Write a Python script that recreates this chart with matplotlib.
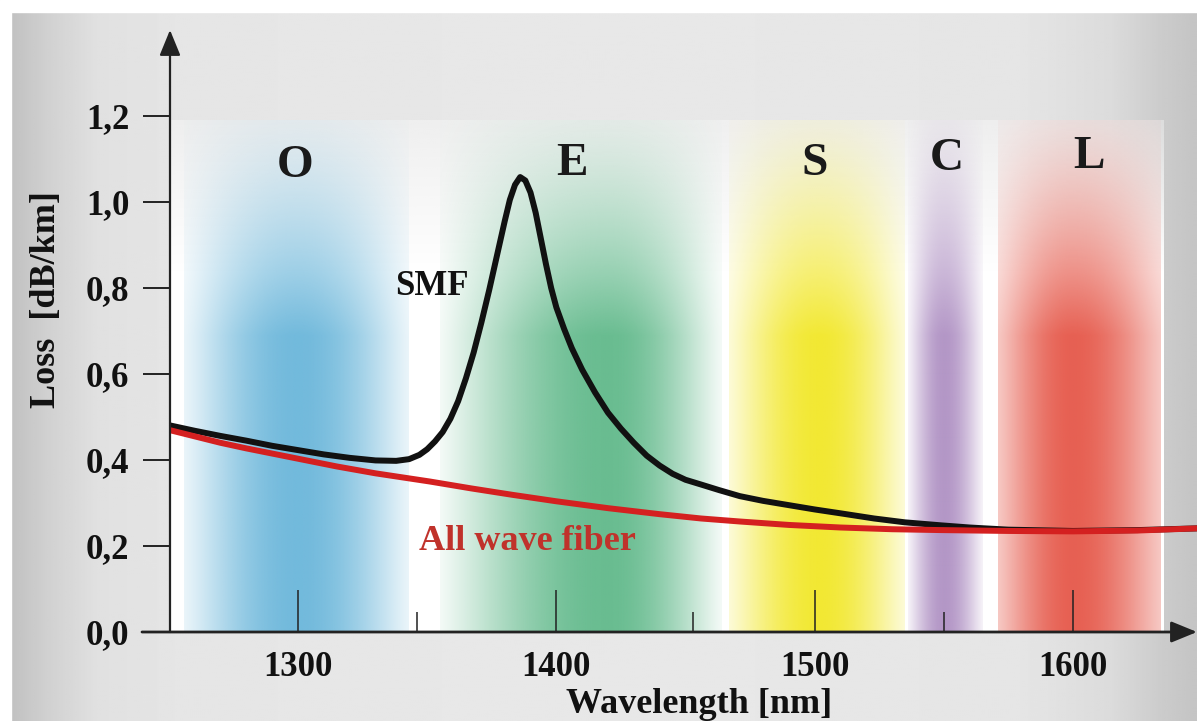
import numpy as np
import matplotlib.pyplot as plt
from matplotlib.patches import Rectangle
from matplotlib.colors import to_rgb

plt.rcParams['font.family'] = ['Liberation Serif', 'DejaVu Serif']
plt.rcParams['font.weight'] = 'bold'

# SMF fibre loss (black curve)
smf_wl = [1250, 1260, 1270, 1280, 1290, 1300, 1310, 1320, 1330, 1338, 1343, 1347,
          1350, 1353, 1356, 1359, 1362, 1365, 1368, 1371, 1374, 1377, 1380, 1382,
          1384, 1386, 1388, 1390, 1392, 1394, 1396, 1398, 1400, 1403, 1406, 1410,
          1415, 1420, 1425, 1430, 1435, 1440, 1445, 1450, 1456, 1463, 1471, 1480,
          1490, 1500, 1510, 1523, 1535, 1549, 1560, 1575, 1600, 1625, 1648]
smf_loss = [0.481, 0.468, 0.456, 0.445, 0.433, 0.423, 0.413, 0.405, 0.399, 0.398, 0.402, 0.412,
            0.425, 0.443, 0.465, 0.496, 0.537, 0.59, 0.65, 0.72, 0.795, 0.875, 0.955, 1.005,
            1.04, 1.058, 1.05, 1.022, 0.975, 0.915, 0.855, 0.8, 0.755, 0.705, 0.66, 0.61,
            0.557, 0.51, 0.473, 0.44, 0.41, 0.387, 0.368, 0.354, 0.343, 0.33, 0.316, 0.305,
            0.295, 0.285, 0.276, 0.264, 0.255, 0.248, 0.243, 0.238, 0.235, 0.237, 0.241]

# All wave fibre loss (red curve)
aw_wl = [1250, 1260, 1270, 1280, 1290, 1300, 1315, 1330, 1351, 1367, 1383, 1400,
         1420, 1440, 1456, 1471, 1490, 1510, 1530, 1549, 1575, 1600, 1625, 1648]
aw_loss = [0.47, 0.455, 0.44, 0.427, 0.415, 0.403, 0.385, 0.369, 0.35, 0.334, 0.319, 0.304,
           0.288, 0.274, 0.264, 0.257, 0.249, 0.243, 0.239, 0.237, 0.235, 0.234, 0.236, 0.241]

# transmission bands
band_names = ['O', 'E', 'S', 'C', 'L']
band_left = [1256, 1355, 1467, 1536, 1571]
band_center = [1300, 1420, 1502, 1550, 1600]
band_right = [1343, 1464, 1535, 1565, 1634]
band_colors = ['#62b2d8', '#58b584', '#f1e61c', '#ab8bc0', '#e44e3f']
band_edge = [0.15, 0.08, 0.2, 0.12, 0.35]
label_x = [1299, 1406, 1500, 1551, 1606]
label_y = [1.058, 1.063, 1.063, 1.074, 1.079]

y_ticks = [0.0, 0.2, 0.4, 0.6, 0.8, 1.0, 1.2]
y_labels = ['0,0', '0,2', '0,4', '0,6', '0,8', '1,0', '1,2']
x_ticks = [1300, 1400, 1500, 1600]
x_minor = [1346, 1453, 1550]

fig = plt.figure(figsize=(11.97, 7.21), dpi=100)

# grey backdrop, darker towards the sides
bg = fig.add_axes([0, 0, 1, 1], zorder=-10)
gx = np.linspace(0, 1, 600)
shade = np.interp(gx, [0, 0.01, 0.04, 0.08, 0.15, 0.5, 0.85, 0.93, 0.97, 1.0],
                  [0.74, 0.76, 0.82, 0.88, 0.9, 0.91, 0.9, 0.86, 0.8, 0.77])
bg.imshow(np.tile(shade, (10, 1)), cmap='gray', vmin=0, vmax=1, aspect='auto',
          extent=(0, 1, 0, 1))
bg.set_xlim(0, 1)
bg.set_ylim(0, 1)
bg.axis('off')
bg.add_patch(Rectangle((0, 1 - 12 / 721), 1, 12 / 721, color='white'))
bg.add_patch(Rectangle((0, 0), 11 / 1197, 1, color='white'))

ax = fig.add_axes([170 / 1197, 89 / 721, 1027 / 1197, 602 / 721])
ax.set_facecolor('none')

band_top = 1.19
ys = np.linspace(0, band_top, 120)

# white underlay, fading out near the top
white = np.ones((len(ys), 2, 4))
white[..., 3] = (0.35 + 0.65 * np.clip((band_top - ys) / 0.35, 0, 1))[:, None]
ax.imshow(white, extent=(1250.5, 1635, 0, band_top), origin='lower', aspect='auto',
          interpolation='bilinear', zorder=0)

v = 0.1 + 0.9 * np.clip((band_top - ys) / 0.5, 0, 1) ** 1.2
for i in range(len(band_names)):
    left, c, right = band_left[i], band_center[i], band_right[i]
    xs = np.linspace(left, right, 200)
    u = np.where(xs < c, (xs - c) / (c - left), (xs - c) / (right - c))
    h = band_edge[i] + (1 - band_edge[i]) * np.cos(np.pi / 2 * np.abs(u)) ** 1.1
    img = np.zeros((len(ys), len(xs), 4))
    img[..., :3] = to_rgb(band_colors[i])
    img[..., 3] = 0.9 * v[:, None] * h[None, :]
    ax.imshow(img, extent=(left, right, 0, band_top), origin='lower', aspect='auto',
              interpolation='bilinear', zorder=1)
    ax.text(label_x[i], label_y[i], band_names[i], fontsize=34, ha='center', va='baseline',
            color='#1a1a1a', zorder=4)

ax.plot(smf_wl, smf_loss, color='#111111', lw=4.3, zorder=3,
        solid_joinstyle='round', solid_capstyle='round')
ax.plot(aw_wl, aw_loss, color='#d42020', lw=4.3, zorder=3.5,
        solid_joinstyle='round', solid_capstyle='round')

ax.text(1352, 0.784, 'SMF', fontsize=25, ha='center', va='baseline', color='#111111', zorder=4)
ax.text(1389, 0.191, 'All wave fiber', fontsize=26, ha='center', va='baseline',
        color='#c0322b', zorder=4)

ax.set_xlim(1250.45, 1648.0)
ax.set_ylim(0, 1.40)

for s in ax.spines.values():
    s.set_visible(False)
ax.annotate('', xy=(0, 1), xytext=(0, 0), xycoords='axes fraction',
            arrowprops=dict(arrowstyle='-|>,head_width=0.43,head_length=1.05', lw=1.6,
                            color='#222222', mutation_scale=15, shrinkA=0, shrinkB=0), zorder=5)
ax.annotate('', xy=(1.0, 0), xytext=(-28 / 1027, 0), xycoords='axes fraction',
            arrowprops=dict(arrowstyle='-|>,head_width=0.43,head_length=1.05', lw=2,
                            color='#222222', mutation_scale=15, shrinkA=0, shrinkB=0), zorder=5)

ax.set_yticks(y_ticks)
ax.set_yticklabels(y_labels)
ax.tick_params(axis='y', direction='out', length=19.4, width=1.4, pad=10,
               labelsize=25, colors='#222222', labelcolor='#111111')
ax.set_xticks(x_ticks)
ax.set_xticks(x_minor, minor=True)
ax.tick_params(axis='x', which='major', direction='in', length=30, width=1.1, pad=14,
               labelsize=25, colors='#222222', labelcolor='#111111')
ax.tick_params(axis='x', which='minor', direction='in', length=14.5, width=1.1, colors='#222222')

fig.text(47 / 1197, 1 - 300 / 721, 'Loss  [dB/km]', rotation=90, fontsize=26,
         ha='center', va='center', color='#111111')
fig.text(699 / 1197, 0.0, 'Wavelength [nm]', fontsize=26, ha='center', va='bottom',
         color='#111111')

fig.savefig('out.png', dpi=100)
